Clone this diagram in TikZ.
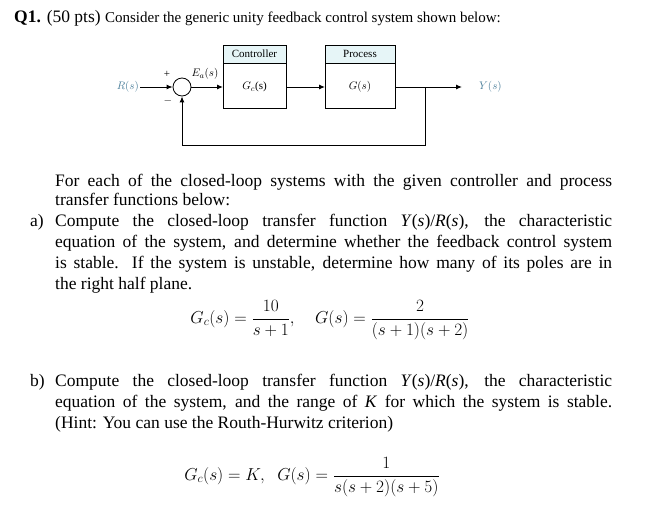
\documentclass[tikz,border=0pt]{standalone}
\usepackage{amsmath}
\usepackage{fontspec}
\setmainfont{Liberation Serif}
\usetikzlibrary{arrows.meta}
\definecolor{hdr}{HTML}{E6F5F7}
\definecolor{sig}{HTML}{4A7E9A}
\begin{document}
\begin{tikzpicture}[x=1pt,y=-1pt,
  ln/.style={anchor=base west,inner sep=0pt,font=\fontsize{17.5}{20}\selectfont},
  blk/.style={draw,line width=0.8pt},
  sm/.style={font=\fontsize{11}{13}\selectfont,inner sep=1pt},
  arr/.style={line width=1pt,-{Latex[length=6pt,width=5pt]}},
  wire/.style={line width=1pt}]
\useasboundingbox (0,0) rectangle (655,530);
% title
\node[ln] (title) at (14,22) {\textbf{Q1.} (50 pts) {\fontsize{15}{17}\selectfont Consider the generic unity feedback control system shown below:}};
% diagram
\draw[blk,fill=hdr] (223,45) rectangle (286,63);
\draw[blk] (223,63) rectangle (286,108);
\node[sm] (ch) at (254.5,54) {Controller};
\node[sm] (gc) at (254.5,87) {$G_c$(s)};
\draw[blk,fill=hdr] (325,45) rectangle (395,63);
\draw[blk] (325,63) rectangle (395,108);
\node[sm] (ph) at (360,54) {Process};
\node[sm] (gp) at (360,87) {$G(s)$};
\node[draw,circle,minimum size=18pt,inner sep=0pt,line width=0.8pt] (sum) at (182,87) {};
\node[sm,text=sig,anchor=east] (R) at (140,87) {$R(s)$};
\node[sm,text=sig,anchor=west] (Y) at (478,87) {$Y(s)$};
\coordinate (cin) at (223,87);
\coordinate (pin) at (325,87);
\coordinate (pout) at (395,87);
\coordinate (br) at (425,87);
\coordinate (yend) at (462,87);
\coordinate (fb) at (425,145);
\coordinate (fb2) at (182,145);
\draw[arr] (R.east) -- (sum.west);
\draw[arr] (sum.east) -- (cin);
\draw[arr] (286,87) -- (pin);
\draw[arr] (pout) -- (yend);
\draw[arr] (br) -- (fb) -- (fb2) -- (sum.south);
\node[sm] (plus) at (167,74) {+};
\node[sm] (minus) at (168,101) {$-$};
\node[sm] (ea) at (205,74) {$E_a(s)$};
% body
\node[ln] (l1) at (55,186) {\makebox[557pt][s]{For each of the closed-loop systems with the given controller and process}};
\node[ln] (l2) at (55,205) {transfer functions below:};
\node[ln] (a) at (30,226) {a)};
\node[ln] (l3) at (55,226) {\makebox[557pt][s]{Compute the closed-loop transfer function \textit{Y}(\textit{s})/\textit{R}(\textit{s}), the characteristic}};
\node[ln] (l4) at (55,247) {\makebox[557pt][s]{equation of the system, and determine whether the feedback control system}};
\node[ln] (l5) at (55,268) {\makebox[557pt][s]{is stable. If the system is unstable, determine how many of its poles are in}};
\node[ln] (l6) at (55,289) {the right half plane.};
\node[ln,anchor=center] (eqa) at (330,320) {$G_c(s)=\dfrac{10}{s+1},\quad G(s)=\dfrac{2}{(s+1)(s+2)}$};
\node[ln] (b) at (30,386) {b)};
\node[ln] (l7) at (55,386) {\makebox[557pt][s]{Compute the closed-loop transfer function \textit{Y}(\textit{s})/\textit{R}(\textit{s}), the characteristic}};
\node[ln] (l8) at (55,407) {\makebox[557pt][s]{equation of the system, and the range of \textit{K} for which the system is stable.}};
\node[ln] (l9) at (55,428) {(Hint: You can use the Routh-Hurwitz criterion)};
\node[ln,anchor=center] (eqb) at (312,477) {$G_c(s)=K,\;\; G(s)=\dfrac{1}{s(s+2)(s+5)}$};
\end{tikzpicture}
\end{document}
